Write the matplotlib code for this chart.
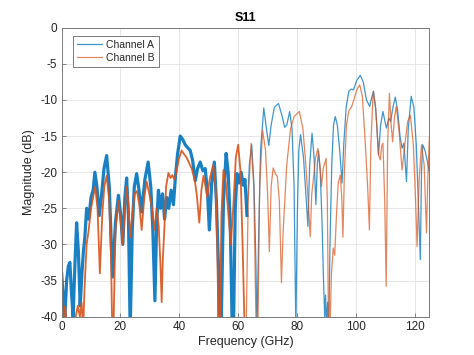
import matplotlib
matplotlib.use("Agg")
from matplotlib import pyplot as plt

plt.rcParams["font.family"] = ["Liberation Sans", "DejaVu Sans"]
plt.rcParams["axes.unicode_minus"] = False

# Channel A, noisy part (0-63 GHz)
freq_a_noisy = [0, 0.5, 1.1, 1.7, 2.3, 2.8, 3.4, 3.9, 4.5, 5.1, 5.7, 6.3, 6.9, 7.4, 7.9,
                8.5, 9.2, 10.0, 10.7, 11.3, 12.0, 12.8, 13.6, 14.4, 15.3, 16.2, 16.8, 17.3,
                18.3, 19.3, 20.1, 20.8, 21.5, 22.1, 22.7, 23.3, 24.0, 24.7, 25.5, 26.3, 27.2,
                28.3, 29.4, 30.3, 31.0, 31.7, 32.3, 32.9, 33.6, 34.3, 35.0, 35.7, 36.4, 37.2,
                38.0, 38.7, 39.4, 40.3, 41.2, 42.0, 42.8, 43.7, 44.5, 45.4, 46.2, 47.1, 48.0,
                48.8, 49.6, 50.2, 51.0, 51.9, 52.6, 53.3, 53.6, 54.2, 55.0, 55.9, 56.6, 57.3,
                58.0, 58.4, 59.0, 59.6, 60.3, 61.0, 61.7, 62.3, 63.0]
mag_a_noisy = [-34, -37, -40, -35, -33, -32.5, -37, -40, -33, -27, -31, -38.5, -34, -31, -29,
               -25, -26.5, -23.5, -22.5, -20, -22, -26, -23, -19.5, -17.7, -22, -29, -34.5,
               -27, -23.2, -26, -30, -23.5, -20.8, -26, -42, -28, -22, -20.2, -22.5, -25.5,
               -21, -18.6, -22, -28, -37.8, -27, -22.5, -25, -23, -26.5, -23.5, -25, -22.5,
               -24.5, -20.5, -17.5, -15, -15.5, -16.2, -16.6, -17, -18.3, -21.2, -19.5, -18.6, -19.8,
               -19.5, -23, -28, -21.5, -18.6, -24, -33, -42, -42, -24, -17.4, -20, -27,
               -42, -42, -25, -20.2, -21.5, -20, -21.8, -21, -26]

# Channel A, clean part (63-125 GHz)
freq_a = [63.0, 63.8, 64.6, 65.4, 66.0, 66.4, 66.9, 67.6, 68.7, 69.6, 70.4, 71.2, 72.3, 73.7,
          74.9, 75.8, 76.5, 77.5, 78.3, 79.0, 79.6, 80.1, 80.6, 81.2, 82.2, 83.0, 83.7, 84.3,
          85.1, 85.8, 86.4, 86.9, 87.3, 87.9, 88.5, 89.0, 89.4, 89.7, 90.0, 90.4, 90.8, 91.2,
          91.8, 92.4, 93.0, 93.7, 94.5, 95.3, 95.9, 96.7, 97.6, 98.4, 99.2, 100.3, 101.5, 102.5,
          103.6, 104.7, 105.3, 106.0, 106.8, 107.7, 108.4, 109.2, 109.8, 110.4, 111.2, 111.8,
          112.6, 113.4, 114.2, 115.0, 115.7, 116.3, 117.2, 117.8, 118.8, 119.7, 120.5, 121.3,
          121.9, 122.3, 122.7, 123.5, 124.3, 125.0]
mag_a = [-26, -19, -16.2, -22, -32, -42, -30, -17, -11.1, -14, -16.3, -13.5, -11, -10.5,
         -12.2, -13.8, -13.5, -11.6, -14, -22, -42, -26, -17, -14.8, -18, -23, -27.5, -19,
         -14.6, -18, -24.5, -19, -17.1, -20, -27, -35, -40, -37, -41, -38, -42, -30,
         -19, -13.5, -12.3, -13.5, -17, -21.5, -16, -11, -8.8, -8.5, -8.6, -7.3, -6.6, -7.5,
         -10, -10.9, -9.8, -8.8, -11.5, -17.6, -13.5, -11.6, -12.8, -13.9, -12.5, -13,
         -11, -9.6, -11.5, -15, -16.7, -16, -21.3, -14, -9.5, -11, -16, -25,
         -32.1, -20, -16.2, -17, -18.5, -20.1]

# Channel B, noisy part (0-62 GHz)
freq_b_noisy = [0, 0.6, 1.2, 1.8, 2.5, 3.2, 4.0, 4.8, 5.5, 6.2, 6.8, 7.3, 7.8, 8.5, 9.2,
                10.0, 10.7, 11.4, 12.2, 13.0, 13.8, 14.5, 15.3, 16.2, 16.8, 17.2, 17.6, 18.3,
                19.3, 20.1, 20.8, 21.5, 22.1, 22.7, 23.3, 24.0, 24.8, 25.6, 26.4, 27.2, 28.1,
                28.9, 29.8, 30.7, 31.5, 32.3, 33.0, 33.6, 34.0, 34.4, 34.9, 35.5, 36.3, 37.0,
                37.6, 38.3, 39.0, 39.8, 40.8, 41.6, 42.5, 43.4, 44.2, 45.2, 45.9, 46.8, 47.5,
                48.2, 48.9, 49.5, 50.3, 51.5, 52.3, 52.9, 53.3, 53.8, 54.3, 55.0, 55.8, 56.7,
                57.5, 58.3, 59.2, 60.0, 60.8, 61.5, 62.2]
mag_b_noisy = [-38, -40.5, -38.5, -42, -42, -42, -42, -40, -38.5, -40, -38, -42, -36, -30, -28,
               -25, -23.5, -22, -25, -34, -26, -22, -20.5, -24, -32, -42, -42, -28,
               -24, -27, -30, -25, -22, -24.5, -29, -26, -23, -22.6, -24.5, -28, -23.5,
               -21.3, -23, -25, -28, -25, -27.5, -33, -38, -32, -28, -22, -20.1, -20.8,
               -20.4, -21, -20, -18.2, -17, -17.5, -18, -18.8, -19.5, -21, -23, -27, -22.5,
               -20.5, -22, -23.5, -21, -19, -22, -30, -42, -42, -26, -19.7, -21.5, -26,
               -30, -25, -18, -16.2, -20, -30, -42]

# Channel B, clean part (62-125 GHz)
freq_b = [62.2, 62.7, 63.4, 64.4, 65.3, 66.1, 66.7, 67.3, 68.3, 69.3, 70.0, 70.6, 71.2, 71.9,
          72.6, 73.3, 74.0, 74.7, 75.3, 76.5, 77.8, 79.0, 80.8, 82.0, 83.0, 83.8, 84.5, 85.0,
          85.6, 86.3, 87.1, 87.8, 88.3, 88.9, 89.9, 90.3, 90.7, 91.2, 91.7, 92.3, 92.8, 93.4,
          94.0, 94.7, 95.2, 95.6, 96.1, 96.8, 97.6, 98.5, 99.3, 100.3, 101.3, 102.2, 103.2,
          104.0, 104.6, 105.1, 105.9, 106.7, 107.7, 108.3, 108.8, 109.2, 109.8, 110.3, 110.8,
          111.4, 112.0, 112.5, 113.1, 113.7, 114.6, 115.7, 116.7, 117.6, 118.5, 119.5, 120.3,
          120.8, 121.5, 122.3, 123.2, 124.0, 124.5, 125.0]
mag_b = [-42, -42, -24, -16, -22, -42, -42, -22, -14.2, -17, -23, -31, -22, -19.4,
         -20.2, -20.6, -24, -35.3, -28, -19, -14, -12.3, -11.6, -14, -19, -24, -28.9, -23,
         -20.8, -18, -16.7, -19, -22, -19.5, -18.1, -24, -42, -42, -34, -30.5, -31.5, -26,
         -21.5, -20.4, -23.5, -29, -20, -13.5, -11.5, -11, -10, -8.6, -7.9, -9.5, -16,
         -22, -28, -16, -8.8, -11, -17.6, -18.3, -16.3, -16, -24, -35.8, -16,
         -9.1, -13.5, -15.8, -12.5, -10.9, -14, -19.7, -16, -13, -12.1, -16, -24,
         -30.3, -21, -16.2, -19, -28.4, -20, -15.1]

x_ticks = [0, 20, 40, 60, 80, 100, 120]
y_ticks = [-40, -35, -30, -25, -20, -15, -10, -5, 0]

blue = "#0072BD"
orange = "#D95319"
text_col = "#262626"

fig = plt.figure(figsize=(4.74, 3.55), dpi=100)
ax = fig.add_axes([0.130, 0.108, 0.776, 0.814])

ax.plot(freq_a_noisy, mag_a_noisy, color=blue, lw=2.3, alpha=0.9)
ax.plot(freq_a, mag_a, color=blue, lw=0.9, alpha=0.75, label="Channel A")
ax.plot(freq_b_noisy, mag_b_noisy, color=orange, lw=1.3, alpha=0.9)
ax.plot(freq_b, mag_b, color=orange, lw=0.9, alpha=0.7, label="Channel B")

ax.set_xlim(0, 125)
ax.set_ylim(-40, 0)
ax.set_xticks(x_ticks)
ax.set_yticks(y_ticks)
ax.grid(True, color="#e3e3e3", lw=0.6)
ax.set_axisbelow(True)
ax.tick_params(direction="in", length=3, width=0.6, color="#6e6e6e",
               labelsize=8.5, labelcolor=text_col, pad=3)
for sp in ax.spines.values():
    sp.set_color("#7a7a7a")
    sp.set_linewidth(0.7)

ax.set_title("S11", fontsize=9, fontweight="bold", color="black", pad=5)
ax.set_xlabel("Frequency (GHz)", fontsize=9, color=text_col, labelpad=2)
ax.set_ylabel("Magnitude (dB)", fontsize=9, color=text_col, labelpad=4)

leg = ax.legend(loc="upper left", bbox_to_anchor=(0.03, 0.972), borderaxespad=0,
                fontsize=7.5, fancybox=False, framealpha=1, edgecolor="#7a7a7a",
                handlelength=2.4, handletextpad=0.4, labelspacing=0.25, borderpad=0.4)
leg.get_frame().set_linewidth(0.7)
for t in leg.get_texts():
    t.set_color(text_col)

fig.savefig("out.png", dpi=100)
